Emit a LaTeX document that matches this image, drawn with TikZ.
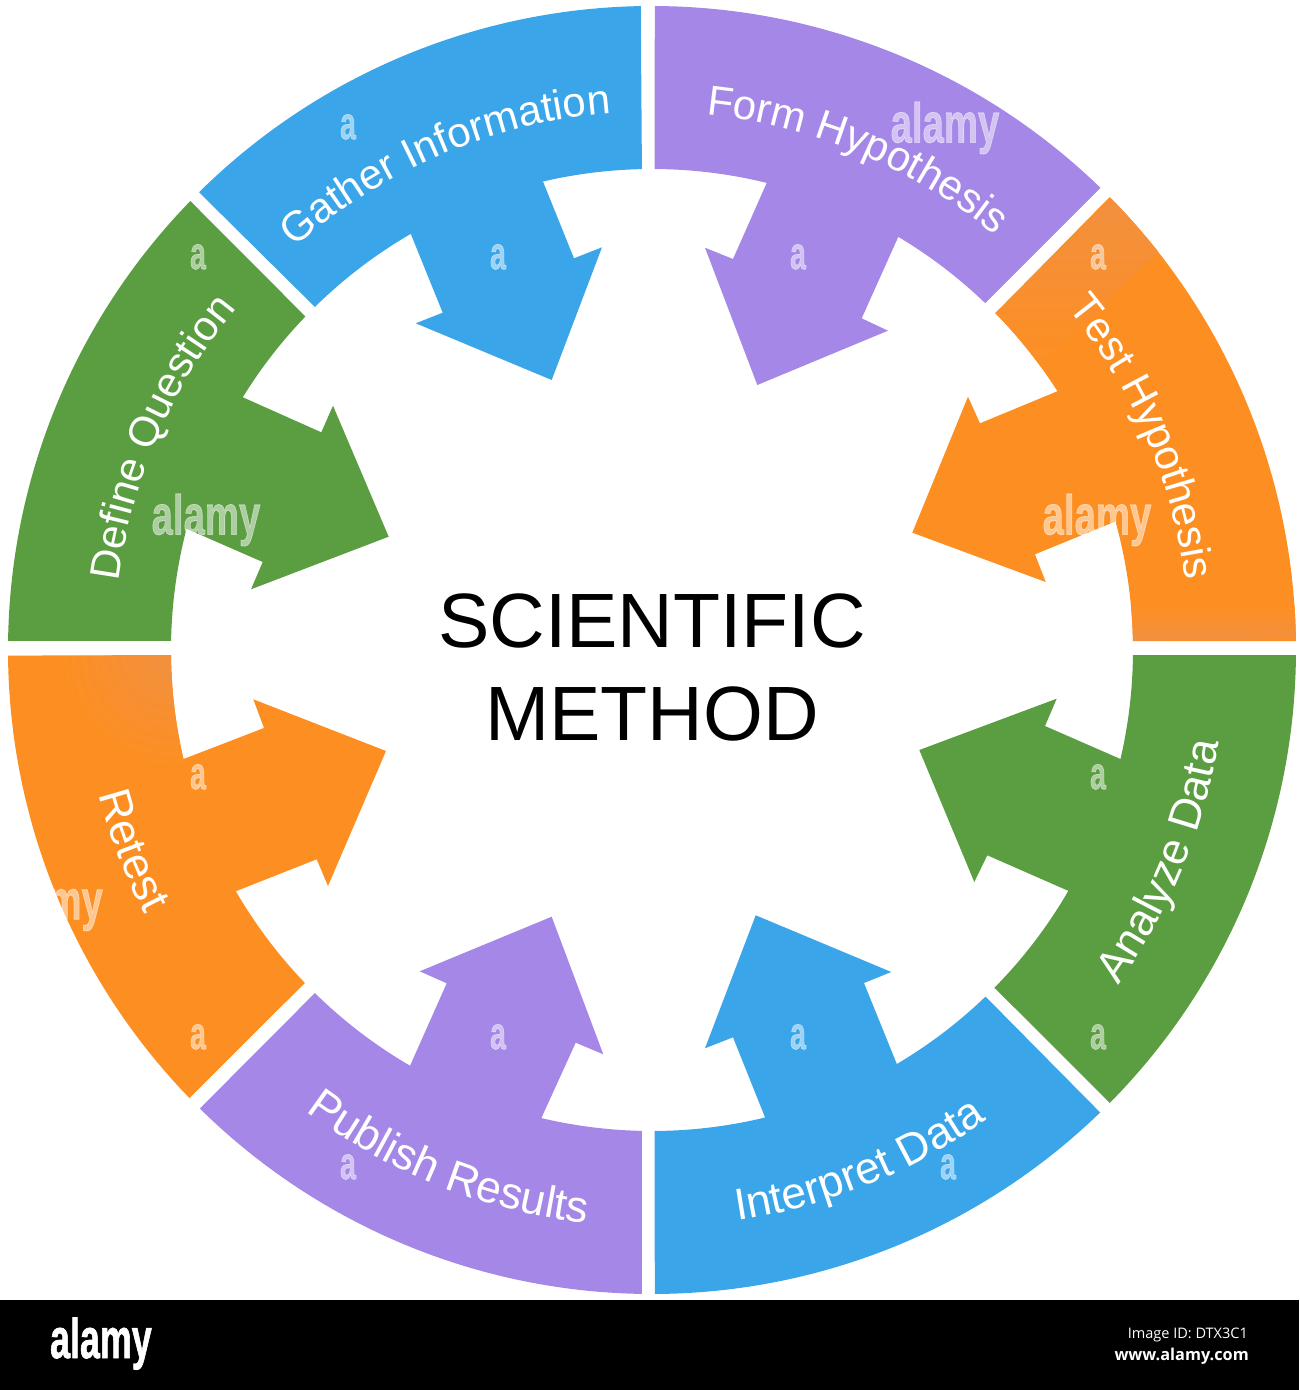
\documentclass[tikz,border=0pt]{standalone}
\usepackage{fontspec}
\setmainfont{Liberation Sans}
\newfontfamily\logofont[FakeBold=1.5]{Liberation Sans Bold}
\newfontfamily\barfont{Open Sans}
\usetikzlibrary{decorations.text}
\definecolor{segblue}{HTML}{3AA6E9}
\definecolor{segpurple}{HTML}{A587E8}
\definecolor{segorange}{HTML}{FD8F22}
\definecolor{segdull}{HTML}{EF9048}
\definecolor{seggreen}{HTML}{5A9E41}
\newcommand{\segfont}{\fontsize{42}{50}\selectfont\color{white}}
\newcommand{\segfontlow}{\fontsize{44.5}{50}\selectfont\color{white}}
\def\ro{644}
\def\ri{481}
\tikzset{
  seglabel/.style={decorate,decoration={text along path,text align=center,text={|\segfont|#1}}},
  seglabellow/.style={decorate,decoration={text along path,text align=center,text={|\segfontlow|#1}}},
  logotext/.style={font=\logofont\fontsize{56}{60}\selectfont,xscale=0.64,transform shape,inner sep=0pt},
  markbig/.style={logotext,xscale=1.07,text=white,opacity=0.5},
  marksmall/.style={font=\logofont\fontsize{46}{50}\selectfont,xscale=0.62,transform shape,inner sep=0pt,text=white,opacity=0.5}
}
\begin{document}
\begin{tikzpicture}[x=1pt,y=1pt]
  \useasboundingbox (-652,650) rectangle (647,-740);
  \fill[segblue] (91:\ro) arc[start angle=91,end angle=134.7,radius=\ro] -- (134.5:\ri) arc[start angle=134.5,end angle=120.1,radius=\ri]
    -- (-209.3,337.3) -- (-236.3,326.7) -- (-100.3,270) -- (-50,402.7) -- (-78,391.7) -- (103.1:\ri) arc[start angle=103.1,end angle=91.2,radius=\ri] -- cycle;
  \fill[seggreen] (135.8:\ro) arc[start angle=135.8,end angle=179.2,radius=\ro] -- (178.9:\ri) arc[start angle=178.9,end angle=165.4,radius=\ri]
    -- (-389.3,88) -- (-401,60.7) -- (-263.3,113.3) -- (-319,244.3) -- (-330.7,217.7) -- (148.3:\ri) arc[start angle=148.3,end angle=136.1,radius=\ri] -- cycle;
  \fill[segorange] (180.5:\ro) arc[start angle=180.5,end angle=224.1,radius=\ro] -- (223.8:\ri) arc[start angle=223.8,end angle=210.1,radius=\ri]
    -- (-335.3,-209.3) -- (-324,-236) -- (-266,-101) -- (-398.7,-49.3) -- (-388,-78) -- (193.1:\ri) arc[start angle=193.1,end angle=180.6,radius=\ri] -- cycle;
  \fill[segpurple] (225.4:\ro) arc[start angle=225.4,end angle=269.1,radius=\ro] -- (268.8:\ri) arc[start angle=268.8,end angle=256.7,radius=\ri]
    -- (-76.3,-392.7) -- (-48.7,-404.3) -- (-100.3,-266.7) -- (-232.3,-321.3) -- (-205.3,-333.3) -- (239.8:\ri) arc[start angle=239.8,end angle=225.5,radius=\ri] -- cycle;
  \fill[segblue] (270.25:\ro) arc[start angle=270.25,end angle=314.1,radius=\ro] -- (313.9:\ri) arc[start angle=313.9,end angle=300.6,radius=\ri]
    -- (212,-333) -- (239.3,-322) -- (103.7,-265.3) -- (53,-398.3) -- (81,-387.3) -- (283.6:\ri) arc[start angle=283.6,end angle=270.3,radius=\ri] -- cycle;
  \fill[seggreen] (315.3:\ro) arc[start angle=315.3,end angle=359.55,radius=\ro] -- (359.4:\ri) arc[start angle=359.4,end angle=346.9,radius=\ri]
    -- (393,-76) -- (404.7,-48.7) -- (267.3,-100) -- (322.3,-232) -- (335.3,-205.3) -- (329.95:\ri) arc[start angle=329.95,end angle=315.4,radius=\ri] -- cycle;
  \fill[segorange] (0.8:\ro) arc[start angle=0.8,end angle=44.7,radius=\ro] -- (44.46:\ri) arc[start angle=44.46,end angle=32.55,radius=\ri]
    -- (328,226.7) -- (316,253.3) -- (260.3,117.3) -- (393.7,68) -- (383,95.7) -- (15.5:\ri) arc[start angle=15.5,end angle=1.07,radius=\ri] -- cycle;
  \fill[segpurple] (45.86:\ro) arc[start angle=45.86,end angle=89.75,radius=\ro] -- (89.7:\ri) arc[start angle=89.7,end angle=76.2,radius=\ri]
    -- (81,391) -- (53,402.3) -- (105.3,265) -- (236,319.3) -- (209.7,331.7) -- (59.2:\ri) arc[start angle=59.2,end angle=46.15,radius=\ri] -- cycle;

  \begin{scope}[even odd rule]
    \clip (0,0) circle (\ro) (0,0) circle (\ri);
    \begin{scope}
      \clip (0,0) -- (44.46:700) -- (1.07:700) -- cycle;
      \shade[rotate=44.46,top color=segdull!80!segorange,bottom color=segorange] (470,0) rectangle (660,-70);
      \shade[top color=segorange,bottom color=segdull!80!segorange] (470,9) rectangle (650,45);
    \end{scope}
    \begin{scope}
      \clip (0,0) -- (180.6:700) -- (223.8:700) -- cycle;
      \shade[inner color=segdull!80!segorange,outer color=segorange] (-480,-5) circle (110);
    \end{scope}
  \end{scope}

  \foreach \mx/\my in {-304/523,-454/393,-154/393,146/393,446/393,-454/-127,446/-127,-154/-387,146/-387,446/-387,-454/-387,-304/-517,296/-517}
    \node[marksmall] at (\mx,\my) {a};
  \node[markbig] (markgreen) at (-446,130) {alamy};
  \node[markbig] (markorange) at (445,130) {alamy};
  \node[markbig] (markpurple) at (293,522) {alamy};
  \node[markbig,anchor=east] (markretest) at (-549,-260) {amy};

  \path[seglabel={Gather Information}] (132:538) arc[start angle=132,end angle=94,radius=538];
  \path[seglabel={Form Hypothesis}] (85.3:538) arc[start angle=85.3,end angle=49.3,radius=538];
  \path[seglabel={Test Hypothesis}] (40:538) arc[start angle=40,end angle=7,radius=538];
  \path[seglabel={Define Question}] (174.1:538) arc[start angle=174.1,end angle=139.1,radius=538];
  \path[seglabellow={Analyze Data}] (-37:574) arc[start angle=-37,end angle=-8,radius=574];
  \path[seglabellow={Interpret Data}] (-83:577) arc[start angle=-83,end angle=-53,radius=577];
  \path[seglabellow={Publish Results}] (232.3:577) arc[start angle=232.3,end angle=264.3,radius=577];
  \path[seglabellow={Retest}] (192.6:572) arc[start angle=192.6,end angle=209.6,radius=572];

  \node[align=center,inner sep=0pt,font=\fontsize{77}{93}\selectfont] (title) at (0,-17) {SCIENTIFIC\\METHOD};

  \fill[black] (-652,-650) rectangle (647,-740);
  \node[logotext,text=white,anchor=base west] (logo) at (-602,-708) {alamy};
  \node[text=white,anchor=base east,inner sep=0pt,font=\barfont\fontsize{14.5}{18}\selectfont] (imageid) at (596,-688) {Image ID: DTX3C1};
  \node[text=white,anchor=base east,inner sep=0pt,font=\barfont\bfseries\fontsize{16.3}{20}\selectfont] (website) at (597,-710) {www.alamy.com};
\end{tikzpicture}
\end{document}
